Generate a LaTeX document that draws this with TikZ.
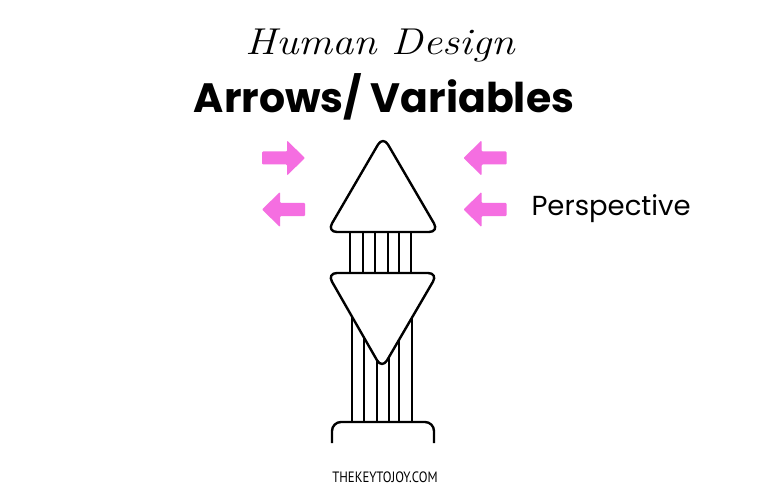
\documentclass[tikz,border=0pt]{standalone}
\usepackage{fontspec}
\newfontfamily\popbold{Poppins Bold}
\newfontfamily\popreg{Poppins}
\newfontfamily\smallsans{PT Sans}
\definecolor{pinkc}{RGB}{245,110,225}
\begin{document}
\begin{tikzpicture}[x=1pt,y=-1pt,
  outline/.style={line width=2.4pt,line join=round,rounded corners=10pt},
  wire/.style={line width=2.2pt},
  rarrow/.pic={\fill[pinkc,rounded corners=1pt] (-21.5,-6.5)--(3.5,-6.5)--(3.5,-17.5)--(21.5,0)--(3.5,17.5)--(3.5,6.5)--(-21.5,6.5)--cycle;},
  larrow/.pic={\fill[pinkc,rounded corners=1pt] (21.5,-6.5)--(-3.5,-6.5)--(-3.5,-17.5)--(-21.5,0)--(-3.5,17.5)--(-3.5,6.5)--(21.5,6.5)--cycle;}
]
\useasboundingbox (0,0) rectangle (767,494);
\fill[white] (0,0) rectangle (767,494);

% titles
\node (script) at (380,46) {\scalebox{1.25}[1.1]{\fontsize{34}{34}\selectfont\itshape Human Design}};
\node (title) at (384,97) {\fontsize{41}{41}\selectfont\popbold Arrows/ Variables};
\node[anchor=west] (persp) at (528,209) {\fontsize{27.5}{27.5}\selectfont\popreg Perspective};
\node (site) at (385,477) {\scalebox{0.85}[1]{\fontsize{15}{15}\selectfont\smallsans THEKEYTOJOY.COM}};

% pink arrows
\pic at (283.5,158) {rarrow};
\pic at (283.5,209.5) {larrow};
\pic at (485,158) {larrow};
\pic at (485,209.5) {larrow};

% wires between triangles
\foreach \x in {350,363,375,388,399,411} \draw[wire] (\x,225) -- (\x,280);
% wires below lower triangle
\foreach \x in {352,364,377,389,399,412} \draw[wire] (\x,300) -- (\x,422);

% upper triangle
\filldraw[fill=white,outline] (383,136) -- (439,232) -- (327,232) -- cycle;
% lower triangle
\filldraw[fill=white,outline] (327,273) -- (438,273) -- (382,369) -- cycle;

% bottom box
\draw[line width=2.4pt,rounded corners=9pt] (332,443) -- (332,422) -- (434,422) -- (434,443);
\end{tikzpicture}
\end{document}
